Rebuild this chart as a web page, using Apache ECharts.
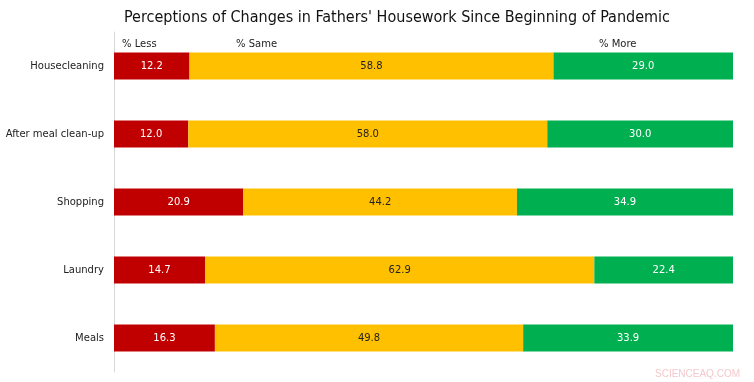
<!DOCTYPE html>
<html><head><meta charset="utf-8">
<script src="https://cdn.jsdelivr.net/npm/echarts@6/dist/echarts.min.js"></script>
<style>html,body{margin:0;padding:0;background:#fff}#c{width:754px;height:382px}</style>
</head><body><div id="c"></div>
<script>
const categories = ['Housecleaning','After meal clean-up','Shopping','Laundry','Meals'];
const lessVals = [12.2, 12.0, 20.9, 14.7, 16.3];
const sameVals = [58.8, 58.0, 44.2, 62.9, 49.8];
const moreVals = [29.0, 30.0, 34.9, 22.4, 33.9];
const seriesNames = ['% Less','% Same','% More'];

const chart = echarts.init(document.getElementById('c'));
const lbl = (color) => ({show:true, position:'inside', color:color, fontFamily:'DejaVu Sans', fontSize:10, formatter:p=>p.value.toFixed(1)});
chart.setOption({
  animation:false,
  title:{text:'Perceptions of Changes in Fathers\' Housework Since Beginning of Pandemic', left:392, textAlign:'center', top:5,
    textStyle:{fontFamily:'DejaVu Sans Condensed', fontWeight:'normal', fontSize:16, color:'#111'}},
  grid:{left:114, right:21, top:32, height:340},
  xAxis:{type:'value', min:0, max:100, show:false},
  yAxis:{type:'category', data:categories, inverse:true,
    axisLine:{show:true, lineStyle:{color:'#d9d9d9'}}, axisTick:{show:false},
    axisLabel:{fontFamily:'DejaVu Sans', fontSize:10, color:'#222', margin:10}},
  series:[
    {name:seriesNames[0], type:'bar', stack:'t', data:lessVals, barWidth:27, itemStyle:{color:'#C00000'}, label:lbl('#fff')},
    {name:seriesNames[1], type:'bar', stack:'t', data:sameVals, barWidth:27, itemStyle:{color:'#FFC000'}, label:lbl('#222')},
    {name:seriesNames[2], type:'bar', stack:'t', data:moreVals, barWidth:27, itemStyle:{color:'#00B050'}, label:lbl('#fff')}
  ],
  graphic:[
    {type:'text', left:122, top:39, style:{text:seriesNames[0], fontFamily:'DejaVu Sans', fontSize:10, fill:'#222'}},
    {type:'text', left:236, top:39, style:{text:seriesNames[1], fontFamily:'DejaVu Sans', fontSize:10, fill:'#222'}},
    {type:'text', left:599, top:39, style:{text:seriesNames[2], fontFamily:'DejaVu Sans', fontSize:10, fill:'#222'}},
    {type:'text', left:655, top:369, style:{text:'SCIENCEAQ.COM', fontFamily:'Liberation Sans', fontSize:10, fill:'#f4c8cc'}}
  ]
});
</script></body></html>
